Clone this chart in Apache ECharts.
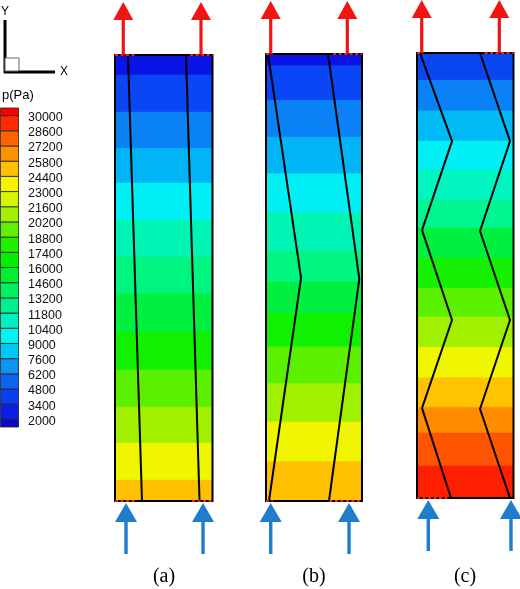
<!DOCTYPE html>
<html><head><meta charset="utf-8">
<script src="https://cdn.jsdelivr.net/npm/echarts@6/dist/echarts.min.js"></script>
<style>html,body{margin:0;padding:0;background:#fff}#c{width:520px;height:589px}</style>
</head><body><div id="c"></div>
<script>
// ---- legend (pressure levels, Pa) ----
const legendLevels = [2000,3400,4800,6200,7600,9000,10400,11800,13200,14600,16000,17400,18800,20200,21600,23000,24400,25800,27200,28600,30000];
const legendMin = 1300, legendMax = 30700;

// ---- panel labels ----
const panelNames = ['(a)', '(b)', '(c)'];

// ---- band edges (normalised depth from top of each panel) ----
const bandEdgesA = [0,0.045,0.128,0.209,0.287,0.370,0.453,0.534,0.621,0.706,0.789,0.870,0.953,1];
const bandEdgesB = [0,0.026,0.103,0.186,0.268,0.355,0.442,0.510,0.580,0.655,0.737,0.823,0.912,1];
const bandEdgesC = [0,0.061,0.130,0.198,0.263,0.330,0.393,0.461,0.528,0.593,0.661,0.730,0.796,0.854,0.928,1];

// ---- channel centre lines [x, depth] ----
const channelA1 = [[0.133,0],[0.277,1]];
const channelA2 = [[0.728,0],[0.867,1]];
const channelB1 = [[0.021,0],[0.365,0.501],[0.031,1]];
const channelB2 = [[0.646,0],[0.972,0.503],[0.656,1]];
const channelC1 = [[0.031,0],[0.363,0.198],[0.052,0.398],[0.363,0.600],[0.052,0.798],[0.352,1]];
const channelC2 = [[0.653,0],[0.964,0.198],[0.653,0.400],[0.964,0.600],[0.653,0.800],[0.964,1]];

// ---- openings on top / bottom edges [x0, x1] ----
const topOpenA = [[0,0.205],[0.77,1]];
const botOpenA = [[0,0.226],[0.79,1]];
const topOpenB = [[0,0.07],[0.70,1]];
const botOpenB = [[0,0.07],[0.66,1]];
const topOpenC = [[0,0.06],[0.70,1]];
const botOpenC = [[0,0.34]];

// ---- arrow positions (x) : outflow at top, inflow at bottom ----
const outArrowA = [0.085,0.882], inArrowA = [0.113,0.903];
const outArrowB = [0.049,0.847], inArrowB = [0.049,0.865];
const outArrowC = [0.049,0.853], inArrowC = [0.117,0.974];

// ---- styles ----
const legendColors = ['#0a0ac8','#0a1ee6','#0a3cf0','#0a64f0','#0a96f0','#00c8f5','#00f5f5','#00f0c0','#00f090','#00f060','#00f030','#00f000','#20f000','#60f000','#a0f000','#d7f500','#f5f500','#ffc000','#ff9000','#ff6400','#ff2a00','#ff0000'];
const bandColorsA = ['#0a14e6','#0a46f5','#0a82f5','#00b4f5','#00f0f5','#00f5b4','#00f580','#00f040','#10f000','#5af000','#a0f000','#f0f500','#ffc000'];
const bandColorsB = bandColorsA;
const bandColorsC = ['#0a46f0','#0a82f5','#00b9f5','#00f0f5','#00f5c0','#00f590','#00f040','#14f000','#5af000','#a0f000','#f0f500','#ffc300','#ff8c00','#ff5500','#ff1e00'];

const panels = [
  {grid:{left:115, top:55, width:97.5, height:446}, edges:bandEdgesA, colors:bandColorsA, ch:[channelA1,channelA2], top:topOpenA, bot:botOpenA, out:outArrowA, inn:inArrowA, cx:164},
  {grid:{left:266, top:54, width:96, height:447}, edges:bandEdgesB, colors:bandColorsB, ch:[channelB1,channelB2], top:topOpenB, bot:botOpenB, out:outArrowB, inn:inArrowB, cx:314},
  {grid:{left:417, top:53, width:96.5, height:445}, edges:bandEdgesC, colors:bandColorsC, ch:[channelC1,channelC2], top:topOpenC, bot:botOpenC, out:outArrowC, inn:inArrowC, cx:465}
];

const grids = [], xAxes = [], yAxes = [], series = [];
panels.forEach((p, gi) => {
  grids.push(p.grid);
  xAxes.push({gridIndex:gi, type:'value', min:0, max:1, show:false});
  yAxes.push({gridIndex:gi, type:'value', min:0, max:1, inverse:true, show:false});
  const bands = [];
  for (let i = 0; i < p.edges.length - 1; i++) bands.push([p.edges[i], p.edges[i+1]]);
  series.push({
    type:'custom', xAxisIndex:gi, yAxisIndex:gi, z:1, silent:true, data:bands,
    renderItem:(params, api) => {
      const a = api.coord([0, api.value(0)]), b = api.coord([1, api.value(1)]);
      const c = p.colors[params.dataIndex];
      return {type:'rect', shape:{x:a[0], y:a[1], width:b[0]-a[0], height:b[1]-a[1]+0.5}, style:{fill:c, stroke:c, lineWidth:0.5}};
    }
  });
  p.ch.forEach(line => series.push({
    type:'line', xAxisIndex:gi, yAxisIndex:gi, z:2, data:line, symbol:'none', silent:true, clip:false,
    lineStyle:{color:'#000', width:2}
  }));
  series.push({
    type:'custom', xAxisIndex:gi, yAxisIndex:gi, z:3, silent:true, data:[[0,0]],
    renderItem:(params, api) => {
      const a = api.coord([0,0]), b = api.coord([1,1]);
      return {type:'rect', shape:{x:a[0], y:a[1], width:b[0]-a[0], height:b[1]-a[1]}, style:{fill:null, stroke:'#000', lineWidth:2}};
    }
  });
  const opens = p.top.map(s => [s[0], s[1], 0]).concat(p.bot.map(s => [s[0], s[1], 1]));
  series.push({
    type:'custom', xAxisIndex:gi, yAxisIndex:gi, z:4, silent:true, data:opens,
    renderItem:(params, api) => {
      const e = api.value(2);
      const a = api.coord([api.value(0), e]), b = api.coord([api.value(1), e]);
      return {type:'line', shape:{x1:a[0], y1:a[1], x2:b[0], y2:b[1]}, style:{stroke:'#f01e1e', lineWidth:2, lineDash:[3,2.5]}};
    }
  });
  const arrows = p.out.map(x => [x, 0]).concat(p.inn.map(x => [x, 1]));
  series.push({
    type:'custom', xAxisIndex:gi, yAxisIndex:gi, z:4, silent:true, data:arrows,
    renderItem:(params, api) => {
      const kind = api.value(1);
      const e = api.coord([api.value(0), kind]);
      const x = e[0], y = e[1];
      if (kind === 0) {
        const col = '#f01414';
        return {type:'group', children:[
          {type:'rect', shape:{x:x-1.6, y:y-38, width:3.2, height:38}, style:{fill:col}},
          {type:'polygon', shape:{points:[[x, y-53],[x-10, y-35],[x+10, y-35]]}, style:{fill:col}}
        ]};
      } else {
        const col = '#1f7dcc';
        return {type:'group', children:[
          {type:'rect', shape:{x:x-1.7, y:y+18, width:3.4, height:35}, style:{fill:col}},
          {type:'polygon', shape:{points:[[x, y+2],[x-11, y+21],[x+11, y+21]]}, style:{fill:col}}
        ]};
      }
    }
  });
});

// legend grid
const lg = grids.length;
grids.push({left:0, top:108, width:19, height:319});
xAxes.push({gridIndex:lg, type:'value', min:0, max:1, show:false});
yAxes.push({gridIndex:lg, type:'value', min:legendMin, max:legendMax, show:false});
const lEdges = [legendMin].concat(legendLevels).concat([legendMax]);
const lBoxes = [];
for (let i = 0; i < lEdges.length - 1; i++) lBoxes.push([lEdges[i], lEdges[i+1]]);
series.push({
  type:'custom', xAxisIndex:lg, yAxisIndex:lg, z:1, silent:true, data:lBoxes,
  renderItem:(params, api) => {
    const a = api.coord([0, api.value(1)]), b = api.coord([1, api.value(0)]);
    return {type:'rect', shape:{x:a[0]+0.5, y:a[1], width:b[0]-a[0]-1, height:b[1]-a[1]}, style:{fill:legendColors[params.dataIndex], stroke:'#222', lineWidth:0.8}};
  }
});
series.push({
  type:'custom', xAxisIndex:lg, yAxisIndex:lg, z:2, silent:true, data:legendLevels.map(v => [v]),
  renderItem:(params, api) => {
    const p = api.coord([1, api.value(0)]);
    return {type:'text', x:p[0]+9, y:p[1]+2, style:{text:String(api.value(0)), fill:'#111', font:'12.5px "Liberation Sans", Arial, sans-serif', textAlign:'left', textVerticalAlign:'middle'}};
  }
});

const graphic = [
  {type:'line', shape:{x1:5, y1:20, x2:5, y2:73}, style:{stroke:'#000', lineWidth:3}},
  {type:'line', shape:{x1:4, y1:72, x2:55, y2:72}, style:{stroke:'#000', lineWidth:3}},
  {type:'rect', shape:{x:5, y:58, width:14, height:13}, style:{fill:'#fff', stroke:'#666', lineWidth:1}},
  {type:'text', x:5, y:12, style:{text:'Y', font:'12px "Liberation Sans", Arial, sans-serif', fill:'#000', textAlign:'center', textVerticalAlign:'middle'}},
  {type:'text', x:64, y:72, style:{text:'X', font:'12px "Liberation Sans", Arial, sans-serif', fill:'#000', textAlign:'center', textVerticalAlign:'middle'}},
  {type:'text', x:2, y:95, style:{text:'p(Pa)', font:'13px "Liberation Sans", Arial, sans-serif', fill:'#000', textAlign:'left', textVerticalAlign:'middle'}}
];
panels.forEach((p, i) => graphic.push({type:'text', x:p.cx, y:577, style:{text:panelNames[i], font:'20px "Liberation Serif", "Times New Roman", serif', fill:'#000', textAlign:'center', textVerticalAlign:'middle'}}));

const chart = echarts.init(document.getElementById('c'), null, {renderer:'canvas'});
chart.setOption({animation:false, grid:grids, xAxis:xAxes, yAxis:yAxes, series:series, graphic:graphic});
</script></body></html>
